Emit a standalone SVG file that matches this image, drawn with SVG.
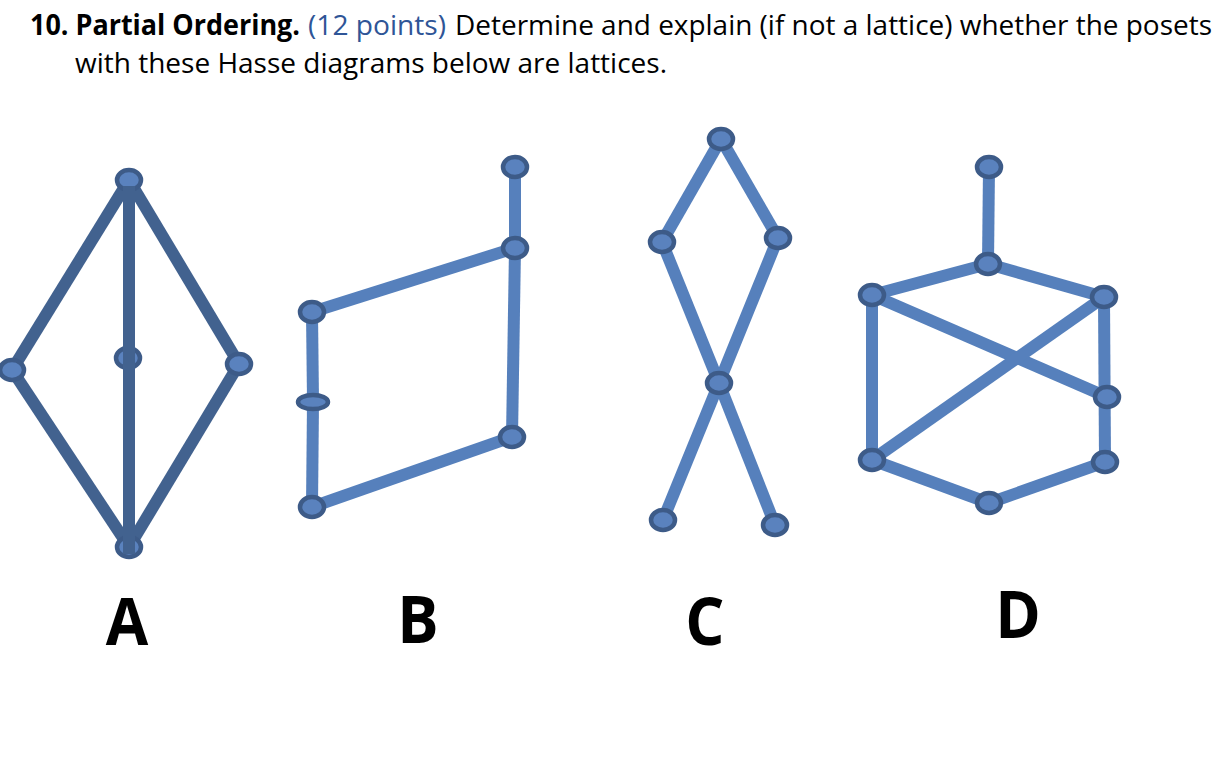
<svg xmlns="http://www.w3.org/2000/svg" width="1232" height="768" viewBox="0 0 1232 768">
<style>
  .t { font-family: "Open Sans", "Liberation Sans", sans-serif; font-size: 28px; fill: #000; }
  .b { font-weight: bold; }
  .blue { fill: #2F5597; }
  .lbl { font-family: "Open Sans", "Liberation Sans", sans-serif; font-weight: bold; font-size: 67px; fill: #000; text-anchor: middle; }
  .e { stroke: #5680BC; stroke-width: 12; stroke-linecap: butt; fill: none; }
  .ed { stroke: #42628F; stroke-width: 12; stroke-linecap: butt; fill: none; }
  .n { fill: #5A82BE; stroke: #3D5B88; stroke-width: 4.5; }
</style>
<rect width="1232" height="768" fill="#fff"/>
<g id="title">
  <text class="t b" x="30" y="35" textLength="270" lengthAdjust="spacingAndGlyphs">10. Partial Ordering.</text>
  <text class="t blue" x="308" y="35" textLength="138" lengthAdjust="spacingAndGlyphs">(12 points)</text>
  <text class="t" x="455" y="35" textLength="757" lengthAdjust="spacingAndGlyphs">Determine and explain (if not a lattice) whether the posets</text>
  <text class="t" x="75" y="73" textLength="592" lengthAdjust="spacingAndGlyphs">with these Hasse diagrams below are lattices.</text>
</g>
<g id="connectors">
  <g id="edges-A">
    <line class="ed" x1="129" y1="180" x2="12" y2="370"/>
    <line class="ed" x1="129" y1="180" x2="239" y2="364"/>
    <line class="ed" x1="12" y1="370" x2="129" y2="547"/>
    <line class="ed" x1="239" y1="364" x2="129" y2="547"/>
  </g>
  <g id="edges-B">
    <line class="e" x1="515" y1="167" x2="515" y2="248"/>
    <line class="e" x1="515" y1="248" x2="312" y2="312"/>
    <line class="e" x1="312" y1="312" x2="313" y2="402"/>
    <line class="e" x1="313" y1="402" x2="312" y2="507"/>
    <line class="e" x1="312" y1="507" x2="512" y2="437"/>
    <line class="e" x1="512" y1="437" x2="515" y2="248"/>
  </g>
  <g id="edges-C">
    <line class="e" x1="721" y1="139" x2="662" y2="242"/>
    <line class="e" x1="721" y1="139" x2="778" y2="238"/>
    <line class="e" x1="662" y1="242" x2="719" y2="383"/>
    <line class="e" x1="778" y1="238" x2="719" y2="383"/>
    <line class="e" x1="719" y1="383" x2="663" y2="520"/>
    <line class="e" x1="719" y1="383" x2="775" y2="525"/>
  </g>
  <g id="edges-D">
    <line class="e" x1="989" y1="167" x2="988" y2="264"/>
    <line class="e" x1="988" y1="264" x2="872" y2="295"/>
    <line class="e" x1="988" y1="264" x2="1104" y2="297"/>
    <line class="e" x1="872" y1="295" x2="1107" y2="397"/>
    <line class="e" x1="872" y1="295" x2="872" y2="460"/>
    <line class="e" x1="1104" y1="297" x2="872" y2="460"/>
    <line class="e" x1="1104" y1="297" x2="1105" y2="462"/>
    <line class="e" x1="872" y1="460" x2="989" y2="503"/>
    <line class="e" x1="1105" y1="462" x2="989" y2="503"/>
  </g>
</g>
<g id="A">
  <ellipse class="n" cx="129" cy="180" rx="12" ry="10"/>
  <ellipse class="n" cx="128" cy="358" rx="12" ry="10"/>
  <ellipse class="n" cx="12" cy="370" rx="12" ry="10"/>
  <ellipse class="n" cx="239" cy="364" rx="12" ry="10"/>
  <ellipse class="n" cx="129" cy="547" rx="12" ry="10"/>
  <line class="ed" x1="129" y1="186" x2="129" y2="554"/>
  <text class="lbl" x="127" y="645" transform="translate(127 0) scale(0.92 1) translate(-127 0)">A</text>
</g>
<g id="B">
  <ellipse class="n" cx="515" cy="167" rx="12" ry="10"/>
  <ellipse class="n" cx="515" cy="248" rx="12" ry="10"/>
  <ellipse class="n" cx="312" cy="312" rx="12" ry="10"/>
  <ellipse class="n" cx="313" cy="402" rx="15" ry="7"/>
  <ellipse class="n" cx="312" cy="507" rx="12" ry="10"/>
  <ellipse class="n" cx="512" cy="437" rx="12" ry="10"/>
  <text class="lbl" x="418" y="643" transform="translate(418 0) scale(0.92 1) translate(-418 0)">B</text>
</g>
<g id="C">
  <ellipse class="n" cx="721" cy="139" rx="12" ry="10"/>
  <ellipse class="n" cx="662" cy="242" rx="12" ry="10"/>
  <ellipse class="n" cx="778" cy="238" rx="12" ry="10"/>
  <ellipse class="n" cx="719" cy="383" rx="12" ry="10"/>
  <ellipse class="n" cx="663" cy="520" rx="12" ry="10"/>
  <ellipse class="n" cx="775" cy="525" rx="12" ry="10"/>
  <text class="lbl" x="705" y="645" transform="translate(705 0) scale(0.92 1) translate(-705 0)">C</text>
</g>
<g id="D">
  <ellipse class="n" cx="989" cy="167" rx="12" ry="10"/>
  <ellipse class="n" cx="988" cy="264" rx="12" ry="10"/>
  <ellipse class="n" cx="872" cy="295" rx="12" ry="10"/>
  <ellipse class="n" cx="1104" cy="297" rx="12" ry="10"/>
  <ellipse class="n" cx="1107" cy="397" rx="12" ry="10"/>
  <ellipse class="n" cx="872" cy="460" rx="12" ry="10"/>
  <ellipse class="n" cx="1105" cy="462" rx="12" ry="10"/>
  <ellipse class="n" cx="989" cy="503" rx="12" ry="10"/>
  <text class="lbl" x="1018" y="638" transform="translate(1018 0) scale(0.92 1) translate(-1018 0)">D</text>
</g>
</svg>
